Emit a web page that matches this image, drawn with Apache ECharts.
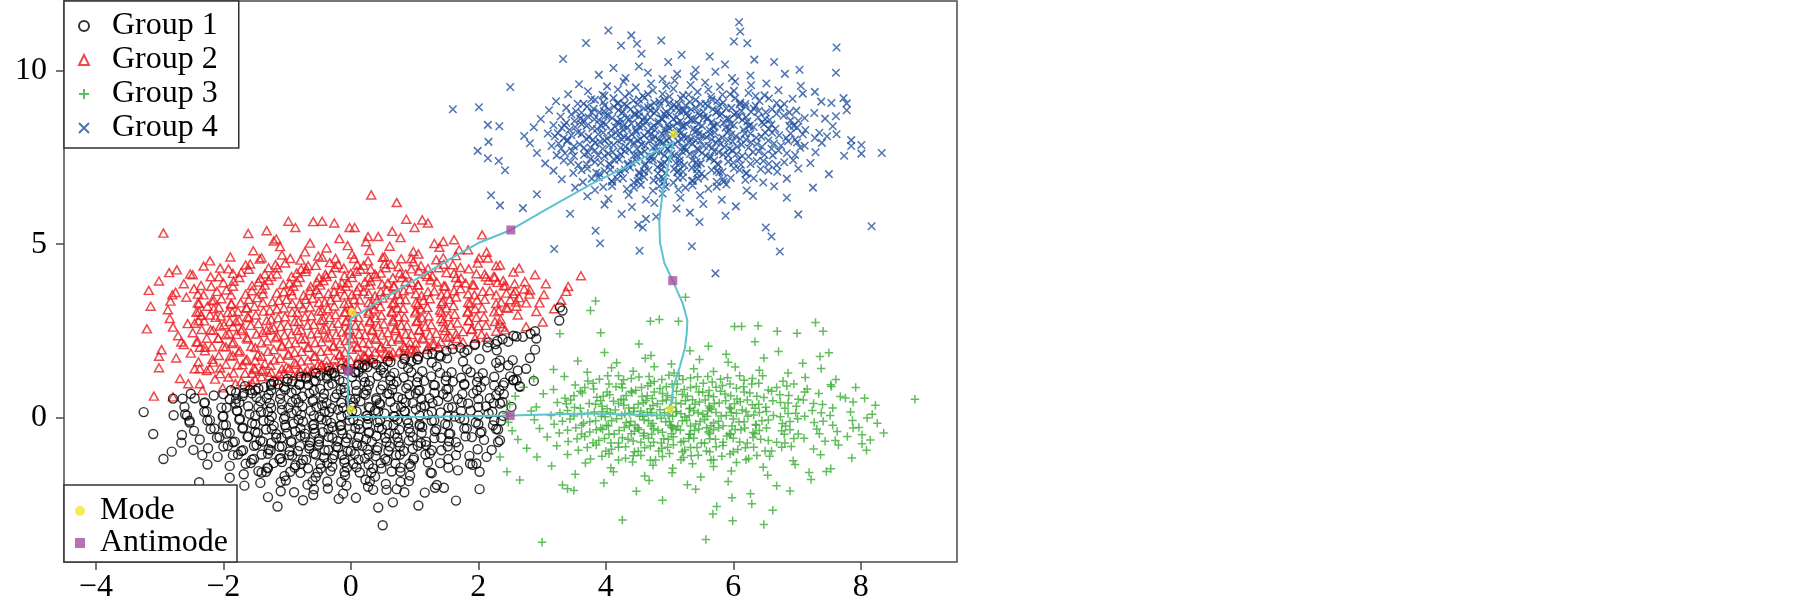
<!DOCTYPE html>
<html><head><meta charset="utf-8">
<script src="https://cdn.jsdelivr.net/npm/echarts@6/dist/echarts.min.js"></script>
<style>html,body{margin:0;padding:0;background:#fff}#c{width:1805px;height:608px}</style>
</head><body><div id="c"></div>
<script>
// Axis tick labels
const xTicks = [-4, -2, 0, 2, 4, 6, 8];
const yTicks = [0, 5, 10];

// Point clouds, flat x,y pairs in hundredths of a unit (read/estimated from the picture)
const group1 = [
-325,16,-310,-47,-294,-119,-281,-98,-265,-50,-266,-72,-238,-186,-278,7,-260,10,-253,-9,-279,55,-264,55,-251,69,-247,-93,-233,-108,-225,-135,-190,-173,-167,-196,-145,-154,-130,-229,-115,-256,-89,-215,-59,-223,-19,-234,43,-259,50,-310,106,-253,116,-216,132,-202,146,-202,165,-239,-36,-204,27,-199,56,-208,72,-206,202,-206,
328,318,332,309,327,280,289,249,291,228,289,196,275,141,260,108,229,194,234,165,247,151,255,108,265,89,239,93,234,41,252,31,221,-93,231,-70,234,-65,213,-113,197,-132,202,-156,187,-132,
-180,72,-158,80,-136,88,-114,96,-92,105,-70,113,-48,121,-26,129,-4,137,18,145,40,153,62,160,84,168,106,176,128,185,150,192,172,201,194,209,216,217,238,226,260,234,282,242,-170,62,-125,79,-81,96,-37,113,7,130,51,146,95,162,139,179,183,195,227,212,
120,183,160,198,195,212,230,221,255,236,141,176,178,189,214,203,247,219,270,233,105,168,85,171,
12,152,35,158,58,163,81,155,104,168,127,159,151,171,176,162,202,169,228,158,254,166,281,172,22,151,
-55,128,-34,135,-14,141,6,132,26,146,47,137,68,129,90,143,112,134,135,147,158,131,182,140,207,128,233,145,262,136,
-121,104,-99,112,-78,118,-58,106,-38,121,-18,109,2,117,22,103,42,120,62,108,83,116,104,102,126,119,149,107,173,115,198,103,225,118,255,109,287,106,241,101,
-188,79,-166,91,-145,84,-125,97,-105,88,-86,79,-67,94,-48,83,-29,98,-10,86,9,77,28,93,47,81,67,96,87,85,108,79,130,94,153,83,178,97,204,88,233,79,265,91,
-245,56,-215,64,-190,53,-168,71,-148,59,-129,67,-111,54,-93,72,-76,61,-59,52,-42,69,-25,58,-9,73,7,55,23,66,40,51,57,70,74,59,92,67,111,53,131,72,152,60,175,68,200,54,228,65,
-261,31,-229,44,-203,29,-181,41,-161,33,-142,47,-125,28,-108,39,-92,45,-76,32,-60,48,-45,36,-30,27,-15,43,0,34,15,47,30,29,46,38,62,46,79,31,97,42,116,35,137,48,159,30,184,41,212,33,238,45,
-257,6,-226,18,-201,3,-179,21,-159,11,-141,17,-124,4,-108,22,-93,13,-78,8,-63,20,-49,2,-34,16,-20,23,-5,9,9,18,24,5,38,21,53,12,69,3,85,17,102,24,121,8,141,15,163,3,188,20,216,12,239,5,
-253,-14,-221,-7,-196,-21,-174,-3,-155,-16,-137,-9,-121,-23,-105,-4,-90,-17,-75,-11,-60,-22,-46,-5,-31,-15,-17,-24,-2,-8,12,-19,27,-3,42,-13,57,-21,73,-6,90,-16,108,-24,127,-9,148,-18,171,-2,196,-14,223,-22,236,-9,
-246,-38,-214,-31,-190,-44,-169,-29,-150,-41,-133,-34,-117,-47,-102,-28,-87,-39,-72,-46,-58,-32,-44,-42,-29,-27,-15,-36,0,-48,14,-33,29,-41,44,-29,60,-46,76,-35,93,-43,112,-27,132,-39,154,-47,178,-31,205,-40,231,-34,
-237,-63,-206,-56,-182,-69,-161,-54,-142,-66,-125,-73,-109,-58,-94,-67,-79,-52,-64,-71,-50,-61,-35,-55,-21,-68,-6,-59,9,-74,24,-62,40,-53,56,-70,73,-57,91,-66,110,-73,131,-59,154,-68,180,-54,209,-64,
-224,-88,-193,-81,-169,-94,-148,-79,-129,-91,-112,-84,-96,-97,-80,-82,-65,-89,-50,-78,-35,-93,-20,-86,-5,-98,10,-80,26,-92,42,-85,59,-96,77,-83,97,-90,118,-79,142,-94,169,-85,199,-91,
-209,-113,-177,-106,-152,-119,-130,-104,-110,-117,-92,-109,-75,-122,-58,-103,-42,-115,-26,-108,-10,-121,6,-105,22,-118,39,-111,57,-124,77,-107,99,-116,124,-103,153,-119,186,-110,
-190,-139,-157,-131,-131,-144,-108,-128,-87,-137,-67,-146,-48,-133,-29,-141,-10,-129,9,-143,28,-135,48,-147,70,-132,94,-140,121,-129,153,-144,191,-136,
-168,-163,-133,-156,-104,-168,-79,-159,-55,-171,-32,-154,-9,-166,14,-158,38,-170,64,-155,93,-167,127,-160,168,-152,
-142,-188,-102,-181,-68,-193,-37,-184,-7,-196,23,-179,55,-191,91,-183,135,-194,
-110,-212,-58,-206,-12,-219,35,-208,84,-215,-75,-238,8,-231,66,-244,
-30,128,12,131,52,129,95,131,140,129,188,131,
-100,104,-55,106,-12,104,30,106,72,104,115,106,160,104,210,106,
-150,79,-103,81,-58,79,-16,81,25,79,65,81,106,79,150,81,198,79,
-180,54,-132,56,-86,54,-43,56,-1,54,40,56,81,54,123,56,168,54,218,56,
-195,29,-145,31,-98,29,-54,31,-12,29,28,31,69,29,110,31,153,29,200,31,
-200,4,-150,6,-103,4,-58,6,-15,4,26,6,67,4,108,6,152,4,200,6,
-200,-21,-150,-19,-103,-21,-58,-19,-15,-21,26,-19,67,-21,108,-19,152,-21,200,-19,
-195,-46,-146,-44,-100,-46,-56,-44,-13,-46,28,-44,69,-46,111,-44,156,-46,203,-44,
-185,-71,-138,-69,-93,-71,-50,-69,-8,-71,33,-69,75,-71,118,-69,165,-71,
-172,-96,-126,-94,-83,-96,-41,-94,0,-96,41,-94,83,-96,127,-94,
-155,-121,-112,-119,-70,-121,-29,-119,12,-121,54,-119,98,-121,
-130,-146,-88,-144,-47,-146,-6,-144,35,-146,78,-144,
-70,117,-25,119,20,117,62,119,105,117,150,119,200,117,250,119,
-125,93,-80,95,-35,93,8,95,50,93,90,95,132,93,178,95,225,93,
-200,68,-155,70,-110,68,-65,70,-22,68,20,70,60,68,102,70,145,68,192,70,240,68,
-230,42,-175,44,-127,42,-82,44,-38,42,4,44,45,42,86,44,128,42,174,44,224,42,
-230,17,-178,19,-130,17,-85,19,-41,17,2,19,43,17,84,19,127,17,173,19,222,17,
-225,-8,-175,-6,-128,-8,-82,-6,-38,-8,4,-6,46,-8,88,-6,131,-8,178,-6,225,-8,
-220,-33,-170,-31,-124,-33,-79,-31,-35,-33,7,-31,49,-33,91,-31,134,-33,182,-31,228,-33,
-210,-58,-162,-56,-117,-58,-72,-56,-29,-58,12,-56,54,-58,97,-56,142,-58,190,-56,
-200,-83,-152,-81,-108,-83,-65,-81,-23,-83,18,-81,61,-83,105,-81,152,-83,
-185,-108,-140,-106,-97,-108,-55,-106,-14,-108,28,-106,71,-108,117,-106,165,-108,
-165,-133,-121,-131,-78,-133,-37,-131,4,-133,47,-131,92,-133,140,-131,
-140,-158,-95,-156,-52,-158,-10,-156,32,-158,78,-156,125,-158,
-110,-185,-60,-183,-15,-185,30,-183,78,-185
];

const group2 = [
-294,532,32,642,72,620,-98,566,-59,565,-45,566,-26,561,-87,548,-2,548,6,548,-161,531,-132,539,-117,515,87,572,100,548,65,537,27,522,43,522,206,527,234,440,213,477,215,460,226,405,239,395,257,386,255,357,244,318,259,333,234,271,238,261,281,368,361,409,-273,426,-252,414,-280,354,-314,321,-320,256,-297,196,-301,177,-301,144,-274,172,-309,62,-268,113,-279,60,-266,218,-242,218,-237,203,-229,203,-245,272,-235,295,-245,141,-237,141,-221,141,-255,98,-237,98,-216,160,-205,127,162,513,170,484,145,508,112,570,121,561,
-150,110,-128,121,-105,127,-83,128,-62,134,-44,139,-25,146,-8,152,9,158,27,164,45,171,63,178,82,184,101,190,119,197,138,204,157,211,176,218,195,229,213,232,-140,134,-97,142,-52,151,-15,160,23,174,55,186,92,199,128,213,166,228,205,240,242,253,275,262,301,276,228,249,
-121,509,-64,503,-18,516,24,507,78,519,131,502,
-153,481,-111,493,-72,478,-38,489,-5,496,29,482,61,494,98,479,139,491,184,484,
-189,463,-143,457,-108,469,-79,454,-51,466,-24,459,2,471,27,452,53,464,79,458,106,472,134,455,165,467,201,460,-221,452,
-231,437,-192,429,-158,443,-129,432,-103,446,-78,428,-55,439,-33,447,-11,431,10,441,31,428,53,444,75,435,98,449,121,430,146,442,172,433,199,446,228,438,264,431,
-248,412,-207,406,-172,419,-142,402,-116,414,-93,407,-71,421,-50,404,-30,416,-10,409,9,422,28,405,47,417,66,403,86,414,107,423,128,408,150,418,173,402,197,415,224,407,255,420,289,412,-285,418,
-262,386,-219,379,-184,393,-155,381,-129,396,-106,384,-84,391,-63,378,-43,395,-24,383,-5,389,13,377,31,394,49,385,67,379,86,392,105,383,125,397,146,380,168,390,191,384,216,396,243,381,273,392,306,386,341,378,-301,394,
-275,361,-231,354,-195,368,-165,356,-139,371,-116,359,-94,366,-74,353,-54,369,-35,358,-16,372,2,355,20,364,38,351,56,367,74,357,92,371,111,352,131,365,151,358,172,372,194,354,218,366,244,359,272,371,303,355,338,364,-317,367,-246,372,
-283,336,-238,329,-203,343,-173,331,-147,346,-123,334,-101,341,-80,328,-60,344,-41,333,-22,347,-4,330,14,339,32,326,50,345,68,332,86,340,105,327,124,343,144,335,165,348,187,329,210,341,236,333,264,346,296,331,330,338,-258,347,-218,337,-187,327,
-287,311,-242,304,-207,318,-177,306,-151,321,-127,309,-105,316,-84,303,-64,319,-45,308,-26,322,-8,305,10,314,28,301,46,320,64,307,82,315,101,302,120,318,140,310,161,323,183,304,206,316,232,308,260,321,291,306,319,314,-225,321,-193,303,-164,317,
-284,286,-239,279,-204,293,-175,281,-149,296,-125,284,-103,291,-82,278,-62,294,-43,283,-24,297,-6,280,12,289,30,276,48,295,66,282,84,290,103,277,122,293,142,285,163,298,185,279,209,291,235,283,262,296,226,277,-221,296,-190,277,-160,288,
-279,261,-234,254,-199,268,-170,256,-145,271,-121,259,-99,266,-78,253,-58,269,-39,258,-20,272,-2,255,16,264,34,251,52,270,70,257,88,265,107,252,126,268,146,260,167,273,189,254,212,266,-256,271,-216,252,-185,263,-132,252,
-271,236,-226,229,-191,243,-163,231,-138,246,-115,234,-93,241,-72,228,-52,244,-33,233,-14,247,4,230,22,239,40,226,58,245,76,232,95,240,114,227,134,243,155,235,176,248,-248,245,-208,229,-179,240,
-262,211,-218,204,-184,218,-156,206,-131,221,-108,209,-87,216,-66,203,-46,219,-27,208,-8,222,10,205,28,214,46,201,64,220,83,207,102,215,122,204,141,219,-240,219,-200,205,
-251,186,-207,179,-174,193,-146,181,-121,196,-98,184,-77,191,-56,178,-36,194,-17,183,2,197,20,180,38,189,57,176,76,192,96,195,-229,193,-189,178,
-239,161,-196,154,-163,168,-135,156,-111,171,-88,159,-67,166,-46,153,-26,169,-7,158,12,172,31,168,-217,168,-178,152,-150,165,
-226,136,-184,129,-152,143,-125,131,-101,146,-79,134,-58,141,-38,148,-205,143,-166,128,-138,139,
-213,111,-172,104,-140,118,-114,108,-90,121,-192,117,-155,101,-201,86,-160,93,-233,79,-181,98,
-165,440,-118,441,-67,438,-20,442,20,439,63,442,110,438,160,441,
-185,416,-135,414,-85,417,-40,413,0,416,38,414,77,417,118,413,162,416,210,414,
-200,389,-145,391,-96,388,-53,391,-14,389,22,391,58,388,95,390,135,391,180,388,230,390,
-210,364,-155,366,-105,363,-64,366,-26,364,10,366,47,363,83,366,121,363,162,366,207,364,258,365,
-215,339,-160,341,-113,338,-71,341,-32,339,5,341,41,338,77,341,114,338,155,341,198,339,250,340,
-215,314,-163,316,-116,313,-75,316,-36,314,1,316,37,313,73,316,110,313,150,316,195,314,246,315,
-212,289,-162,291,-114,288,-72,291,-33,289,3,291,39,288,75,291,112,288,153,291,197,289,
-205,264,-157,266,-110,263,-68,266,-29,264,7,266,43,263,79,266,117,263,157,266,200,265,
-196,239,-148,241,-104,238,-62,241,-23,239,13,241,49,238,86,241,124,238,165,241,
-186,214,-140,216,-97,213,-56,216,-17,214,19,216,56,213,93,216,131,213,
-176,189,-130,191,-88,188,-47,191,-9,189,28,191,66,188,103,196,
-165,164,-120,166,-78,163,-38,166,0,164,32,170,
-150,139,-108,141,-68,138,-30,145,
-140,461,-95,459,-45,462,5,459,50,462,95,459,145,461,
-205,431,-160,428,-115,432,-70,429,-25,433,15,428,55,432,95,429,138,432,185,429,
-220,406,-175,404,-125,407,-80,404,-38,407,2,404,40,407,80,404,120,407,165,404,212,406,
-235,381,-185,379,-135,382,-90,379,-48,382,-8,379,30,382,68,379,106,382,148,379,193,382,240,380,
-240,356,-188,354,-138,357,-92,354,-50,357,-10,354,28,357,65,354,102,357,142,354,184,357,228,354,280,356,
-240,331,-188,329,-138,332,-92,329,-50,332,-10,329,28,332,65,329,102,332,142,329,184,332,228,329,275,331,
-238,306,-186,304,-137,307,-92,304,-50,307,-10,304,28,307,65,304,102,307,142,304,184,307,225,305,
-230,279,-180,277,-132,280,-88,277,-47,280,-8,277,30,280,67,277,105,280,145,277,185,280,
-220,253,-172,251,-126,254,-84,251,-44,254,-5,251,33,254,70,251,108,254,148,251,190,256,
-208,229,-162,227,-118,230,-78,227,-38,230,0,227,38,230,75,227,112,230,150,232,
-196,204,-150,202,-108,205,-68,202,-28,205,10,202,48,205,85,202,
-185,179,-140,177,-98,180,-58,177,-18,180,22,178,60,182,
-170,153,-126,151,-86,154,-46,151,-8,156,
-155,128,-112,126,-72,129
];

const group3 = [
885,53,776,57,810,-1,788,-30,802,-49,802,-75,760,-66,729,274,741,249,700,243,639,265,602,263,613,263,669,249,750,187,736,176,754,90,746,-155,722,-178,689,-211,662,-267,648,-308,599,-297,629,-248,557,-351,568,-278,574,-256,300,-359,426,-295,384,336,376,309,525,347,470,278,484,283,514,278,392,245,328,242,245,-156,265,-180,234,-113,332,-194,340,-205,350,-210,
452,212,561,206,634,219,
398,188,471,179,532,193,589,183,671,191,
356,163,417,158,462,171,503,155,547,168,592,160,648,172,709,157,
318,139,371,131,409,144,443,134,476,147,507,129,538,141,569,133,603,146,641,137,686,129,738,142,
287,113,335,119,372,106,403,121,428,109,452,117,476,104,499,122,521,110,544,118,567,103,591,115,617,108,646,121,678,105,713,116,761,110,
271,88,318,81,352,94,381,83,405,97,426,86,447,79,466,92,485,84,504,96,523,81,542,90,562,78,583,93,605,85,629,97,655,80,684,91,716,83,753,95,792,87,
258,62,302,69,336,56,363,71,386,59,406,66,424,53,441,72,457,61,473,55,489,70,505,58,520,67,536,52,552,73,569,60,587,68,606,54,626,71,648,58,673,66,702,53,734,70,768,61,806,56,
249,38,291,31,324,44,351,29,374,41,394,33,412,47,428,36,444,28,459,43,474,35,489,48,503,30,518,40,532,27,547,45,562,34,578,42,594,29,611,46,630,37,651,30,674,44,699,33,726,41,756,28,788,45,823,36,
244,12,283,19,314,6,340,21,362,9,382,16,399,3,415,22,430,11,444,18,458,4,472,14,485,23,498,7,511,17,524,2,538,20,552,10,566,24,581,5,597,15,614,22,632,8,652,18,674,3,698,13,724,21,752,6,784,16,818,10,
247,-13,288,-6,319,-19,344,-4,365,-16,384,-9,401,-22,417,-3,432,-14,446,-21,460,-7,474,-17,487,-2,500,-11,513,-24,527,-8,541,-18,555,-5,569,-15,584,-23,600,-4,617,-12,635,-20,655,-7,677,-17,701,-3,727,-14,756,-22,787,-8,826,-16,
253,-38,296,-31,327,-44,353,-29,375,-41,395,-34,413,-47,429,-28,445,-39,460,-45,475,-32,489,-42,503,-27,517,-36,531,-48,546,-33,561,-41,577,-29,594,-46,612,-35,631,-43,652,-30,676,-38,702,-47,731,-33,763,-40,797,-28,836,-44,
262,-63,308,-56,341,-69,367,-54,389,-66,408,-73,426,-58,443,-67,459,-52,475,-71,491,-61,506,-55,522,-68,538,-59,555,-74,572,-62,590,-53,610,-70,631,-57,655,-66,681,-73,711,-59,744,-68,779,-54,815,-64,
276,-88,323,-81,357,-94,385,-79,409,-91,431,-84,451,-97,470,-82,488,-89,506,-78,524,-93,543,-86,563,-98,584,-80,607,-92,632,-85,660,-96,691,-83,726,-90,765,-79,809,-94,
292,-113,340,-106,376,-119,405,-104,431,-117,455,-109,478,-122,500,-103,522,-115,545,-108,569,-121,595,-105,624,-118,657,-111,694,-124,737,-107,786,-116,
315,-139,368,-131,408,-144,442,-128,474,-137,505,-146,536,-133,569,-141,605,-129,647,-143,697,-135,753,-147,
352,-163,412,-156,461,-168,504,-159,549,-171,597,-154,654,-166,719,-158,
397,-188,468,-181,528,-193,592,-184,668,-196,
448,-212,541,-206,627,-219,489,-238,598,-231,
390,111,440,113,488,110,533,114,580,111,630,113,
367,87,416,89,456,87,495,89,533,87,573,88,616,89,668,87,
350,63,396,62,432,64,465,63,497,64,528,62,561,64,596,63,637,62,687,64,
338,40,384,39,420,41,451,39,481,40,510,42,540,39,570,41,602,40,640,39,686,42,740,38,
360,27,402,26,436,28,470,26,500,27,531,26,563,28,596,26,634,27,681,27,
328,14,372,13,407,15,437,13,465,15,492,14,518,11,545,14,573,15,605,13,641,15,686,12,738,14,
332,-10,375,-12,409,-9,439,-11,467,-9,494,-12,520,-9,548,-11,577,-10,609,-12,645,-9,689,-11,741,-10,
362,-22,404,-24,437,-23,471,-24,502,-22,533,-24,565,-23,598,-24,636,-22,682,-24,
340,-36,385,-35,421,-37,452,-34,482,-36,510,-34,539,-37,569,-35,603,-34,641,-37,689,-35,
355,-61,398,-60,435,-62,467,-59,498,-62,530,-60,563,-61,600,-59,643,-62,695,-60,
371,-86,420,-85,461,-87,497,-85,533,-86,573,-84,619,-87,676,-85,
394,-111,443,-110,489,-112,534,-110,582,-111,637,-109,
420,121,468,119,515,121,560,119,610,121,
380,99,425,97,470,99,512,97,553,99,595,97,640,99,695,97,
360,76,402,74,440,76,476,74,511,76,546,74,580,76,617,74,660,76,712,74,
345,51,392,49,428,51,463,49,495,51,525,49,556,51,588,49,622,51,662,49,710,51,
395,18,455,19,510,18,560,19,620,18,
350,5,393,4,425,6,453,4,480,6,505,4,531,6,559,4,589,6,623,4,663,6,712,4,
392,-30,450,-29,505,-30,558,-29,618,-30,
362,-47,405,-48,440,-46,472,-48,503,-46,533,-48,563,-46,596,-48,634,-46,680,-48,735,-46,
380,-72,420,-73,455,-71,487,-73,518,-71,550,-73,584,-71,622,-73,668,-71,
400,-97,445,-98,483,-96,520,-98,558,-96,600,-98,650,-96,
420,-122,470,-123,518,-121,565,-123,620,-121
];

const group4 = [
404,1116,369,1080,440,1102,424,1073,449,1078,487,1087,456,1049,333,1034,609,1140,611,1113,601,1084,622,1079,664,1025,704,1003,762,1067,761,994,160,889,201,895,250,953,215,844,233,840,199,769,216,795,215,748,232,740,242,713,220,641,234,612,270,604,292,644,319,486,391,503,453,481,535,494,660,522,673,479,702,586,651,548,384,539,344,588,458,548,463,573,728,939,754,907,761,869,762,817,750,702,725,663,684,634,773,921,778,906,778,886,785,800,785,783,801,786,801,761,774,755,833,763,817,552,572,416,
452,1012,498,1025,541,1003,563,1041,587,1018,412,1008,633,1032,519,1046,
389,988,431,979,466,994,489,976,512,991,538,983,572,997,598,979,627,986,681,991,
358,961,402,955,428,968,447,952,471,963,495,957,508,972,533,959,556,966,579,954,603,969,628,958,652,963,706,956,
341,932,372,941,398,928,419,946,437,935,458,927,474,944,489,933,506,948,521,929,544,939,561,946,583,931,601,942,624,936,649,929,671,944,709,934,
322,912,356,905,377,918,396,909,412,921,429,903,443,914,461,922,476,907,492,916,507,902,518,920,532,910,549,904,566,917,584,908,603,921,619,904,641,913,668,907,693,919,738,911,
311,886,338,893,362,879,381,890,397,883,413,896,425,878,439,889,452,881,466,895,479,884,491,877,503,892,515,885,527,879,541,894,553,882,568,889,582,876,597,893,613,884,632,891,651,880,674,893,699,885,727,878,
298,861,329,868,351,855,373,866,389,858,404,871,418,853,433,864,446,872,458,857,470,866,483,853,494,870,506,861,517,855,529,869,540,858,554,866,566,852,579,871,594,860,608,867,622,854,639,865,657,858,679,870,702,856,744,862,
287,837,318,843,343,829,362,846,379,834,393,841,408,828,421,847,434,836,447,829,459,843,471,835,482,848,493,831,505,840,516,827,527,845,538,833,551,841,563,829,575,846,588,836,601,843,616,830,632,838,648,846,666,833,688,841,713,829,756,840,
272,812,309,819,334,806,356,822,373,810,388,817,402,804,416,821,429,809,441,816,454,803,466,822,477,811,488,818,499,806,511,820,522,812,534,803,546,818,558,809,571,822,583,807,597,816,611,803,627,819,644,810,661,821,683,806,709,817,747,811,
281,791,315,783,339,797,359,788,376,779,391,795,405,785,419,798,431,781,444,792,456,787,468,799,479,780,490,793,502,785,513,797,524,779,536,790,548,798,561,784,573,793,586,780,599,796,613,787,628,794,645,781,664,790,686,797,712,784,739,792,
292,763,323,756,347,769,366,758,383,771,398,754,411,766,424,759,437,772,449,757,461,768,473,753,485,765,497,774,508,756,520,767,532,760,545,773,557,755,570,768,584,759,598,771,614,754,631,766,649,758,671,770,697,757,729,765,
305,733,334,741,357,728,376,746,392,735,407,729,421,744,435,732,448,739,461,727,474,743,486,731,498,746,510,734,523,728,536,741,549,733,563,747,577,729,592,738,609,745,627,731,647,740,668,728,694,742,721,734,
318,712,349,705,371,718,390,703,407,715,423,709,438,721,453,704,467,713,481,722,494,706,507,717,521,709,535,720,550,703,566,714,583,708,601,719,621,705,643,716,669,709,702,718,
331,687,364,679,389,693,409,682,427,690,444,678,460,694,475,684,490,689,506,677,521,692,537,683,555,695,574,680,596,691,619,685,647,678,684,689,
352,663,383,656,410,668,433,659,455,671,474,654,494,666,514,657,536,669,561,660,589,672,621,655,664,667,
371,638,404,631,436,642,463,629,489,646,517,634,548,641,582,628,631,639,
398,614,441,607,476,619,511,603,553,616,604,609,
425,587,479,579,532,591,588,582,451,556,547,564,
383,916,420,907,452,917,484,911,514,904,541,916,575,913,611,908,656,920,
371,897,405,889,433,899,460,892,485,901,511,894,534,888,560,899,589,891,619,897,661,889,
346,874,378,880,400,870,427,882,452,869,476,878,500,873,522,884,547,871,573,880,601,874,628,881,668,876,
338,850,365,858,396,851,423,859,440,848,464,854,489,861,512,849,535,857,559,862,585,850,614,858,645,851,690,857,
331,835,352,838,386,832,414,839,427,830,453,838,477,829,499,836,522,841,544,829,569,838,594,831,624,840,656,832,700,836,
320,811,346,814,380,801,409,812,435,807,460,813,483,801,505,814,528,808,552,813,577,802,604,811,636,807,672,814,728,806,
326,790,350,782,383,792,412,786,438,797,462,784,485,795,508,788,530,794,554,783,580,789,606,781,637,789,675,784,700,793,
336,762,372,764,404,761,430,768,455,761,479,768,503,760,526,770,551,763,577,766,605,760,640,767,684,762,
345,737,383,737,414,742,441,735,468,741,492,735,516,741,542,736,570,741,600,735,637,739,680,736,
362,713,398,711,430,715,460,710,487,715,514,712,543,716,574,711,610,714,655,712,
378,689,418,688,452,690,483,687,513,691,545,689,584,688,632,690,
396,665,444,663,484,667,525,663,574,666,
395,930,430,925,466,933,500,926,530,931,565,925,595,932,635,927,
365,905,398,900,418,906,450,903,470,899,500,907,525,900,556,905,578,899,610,903,635,899,680,904,
353,883,390,880,420,886,445,877,470,885,495,881,520,886,545,878,575,884,605,879,640,884,688,880,
360,862,382,860,410,864,437,861,461,866,487,862,511,866,533,861,560,864,590,862,620,866,650,861,712,864,
335,843,370,841,400,845,428,841,451,846,475,842,497,845,520,840,545,846,569,842,596,845,626,842,660,845,695,841,
325,820,362,818,396,822,422,819,448,823,471,818,494,822,517,819,540,823,564,818,590,822,618,819,650,822,690,819,735,821,
340,800,370,802,398,799,425,802,450,799,474,802,496,799,519,802,541,799,566,802,592,799,620,802,655,799,697,802,
330,776,366,778,395,775,423,778,449,775,474,778,497,775,520,778,543,775,567,778,594,775,624,778,660,775,705,778,
350,754,388,756,417,753,444,756,469,753,492,756,515,753,539,756,564,753,592,756,624,753,662,756,
370,730,405,732,434,729,462,732,489,729,516,732,544,729,575,732,612,729,656,732,
385,706,420,704,452,707,482,704,512,707,543,704,578,707,620,704,
410,680,450,682,492,680,535,682,585,680
];

// Modes, antimodes and the cyan path linking them (data units)
const modes = [[0.02, 3.04], [0.0, 0.24], [5.01, 0.24], [5.07, 8.17]];
const antimodes = [[-0.04, 1.34], [2.50, 0.06], [2.51, 5.41], [5.05, 3.95]];
const ridgePath = [
[5.06,7.95],[4.40,7.30],[3.80,6.76],[3.10,6.04],[2.51,5.41],[2.02,5.05],[1.55,4.57],[1.08,4.05],[0.51,3.43],[0.0,2.85],
[-0.02,2.30],[-0.04,1.80],[-0.04,1.34],[-0.05,0.80],[-0.03,0.02],[1.20,0.03],[2.50,0.06],[3.70,0.12],[5.00,0.06],
[5.06,0.89],[5.16,1.46],[5.24,2.00],[5.27,2.42],[5.28,2.80],[5.21,3.28],[5.05,3.95],[4.92,4.45],[4.85,5.05],[4.84,5.68],[4.90,6.63],[5.06,7.95]
];

function pairs(a) { const out = []; for (let i = 0; i + 1 < a.length; i += 2) out.push([a[i] / 100, a[i + 1] / 100]); return out; }

const FONT = '"Liberation Serif", "Times New Roman", serif';
const RED = '#ea1d22', BLACK = '#000000', GREEN = '#3bae35', BLUE = '#21509f';
const YELLOW = '#f3e62a', PURPLE = '#a4509e', CYAN = '#5ec3d0';
const PLUS = 'path://M0,5L10,5M5,0L5,10';
const CROSS = 'path://M0,0L10,10M10,0L0,10';
const minusFmt = v => String(v).replace('-', '\u2212');

const chart = echarts.init(document.getElementById('c'), null, { renderer: 'canvas' });
chart.setOption({
  animation: false,
  backgroundColor: '#ffffff',
  grid: { left: 64, right: 848, top: 1, bottom: 46, show: true, borderColor: '#4a4a4a', borderWidth: 1.5, backgroundColor: 'transparent' },
  xAxis: {
    type: 'value', min: -4.5, max: 9.51, position: 'bottom',
    splitLine: { show: false },
    axisLine: { show: false, onZero: false },
    axisTick: { show: true, length: 8, inside: false, customValues: xTicks, lineStyle: { color: '#4a4a4a', width: 1.5 } },
    axisLabel: { customValues: xTicks, formatter: minusFmt, fontFamily: FONT, fontSize: 32, color: '#000', margin: 10 }
  },
  yAxis: {
    type: 'value', min: -4.16, max: 12.01, position: 'left',
    splitLine: { show: false },
    axisLine: { show: false, onZero: false },
    axisTick: { show: true, length: 8, inside: false, customValues: yTicks, lineStyle: { color: '#4a4a4a', width: 1.5 } },
    axisLabel: { customValues: yTicks, formatter: minusFmt, fontFamily: FONT, fontSize: 32, color: '#000', margin: 17 }
  },
  legend: [
    {
      data: ['Group 1', 'Group 2', 'Group 3', 'Group 4'], orient: 'vertical', left: 64, top: 1,
      padding: [9, 21, 4, 14], itemWidth: 10, itemHeight: 10, itemGap: 2,
      borderColor: '#333', borderWidth: 1.5, borderRadius: 0, backgroundColor: '#fff', selectedMode: false,
      textStyle: { fontFamily: FONT, fontSize: 32, lineHeight: 32, color: '#000', padding: [0, 0, 0, 18] }
    },
    {
      data: ['Mode', 'Antimode'], orient: 'vertical', left: 64, bottom: 46,
      padding: [10, 9, 3, 11], itemWidth: 10, itemHeight: 10, itemGap: 0,
      borderColor: '#333', borderWidth: 1.5, borderRadius: 0, backgroundColor: '#fff', selectedMode: false,
      textStyle: { fontFamily: FONT, fontSize: 32, lineHeight: 28, color: '#000', padding: [0, 0, 0, 10] }
    }
  ],
  series: [
    { name: 'Group 2', type: 'scatter', data: pairs(group2), symbol: 'triangle', symbolSize: [9, 8],
      itemStyle: { color: 'rgba(255,255,255,0)', borderColor: RED, borderWidth: 1.5 }, z: 2, silent: true },
    { name: 'Group 1', type: 'scatter', data: pairs(group1), symbol: 'circle', symbolSize: 9,
      itemStyle: { color: 'rgba(255,255,255,0)', borderColor: BLACK, borderWidth: 1.4 }, z: 2, silent: true },
    { name: 'Group 3', type: 'scatter', data: pairs(group3), symbol: PLUS, symbolSize: 8.5,
      itemStyle: { color: GREEN, borderColor: GREEN, borderWidth: 1.5 }, z: 2, silent: true },
    { name: 'Group 4', type: 'scatter', data: pairs(group4), symbol: CROSS, symbolSize: 7.5,
      itemStyle: { color: BLUE, borderColor: BLUE, borderWidth: 1.5 }, z: 2, silent: true },
    { name: 'Ridge', type: 'line', data: ridgePath, showSymbol: false, smooth: false,
      lineStyle: { color: CYAN, width: 2 }, z: 3, silent: true },
    { name: 'Mode', type: 'scatter', data: modes, symbol: 'circle', symbolSize: 8,
      itemStyle: { color: YELLOW }, z: 4, silent: true },
    { name: 'Antimode', type: 'scatter', data: antimodes, symbol: 'rect', symbolSize: 9,
      itemStyle: { color: PURPLE }, z: 4, silent: true }
  ]
});
</script>
</body></html>
